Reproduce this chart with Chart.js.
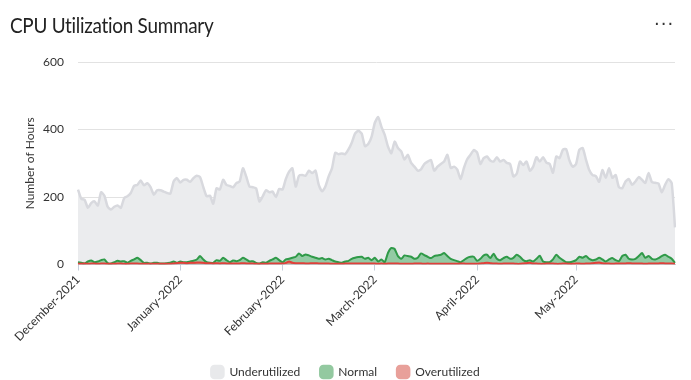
<!DOCTYPE html>
<html>
<head>
<meta charset="utf-8">
<script src="https://cdn.jsdelivr.net/npm/chart.js@4.4.1/dist/chart.umd.min.js"></script>
<style>
  body { margin: 0; background: #fff; }
  #wrap { position: relative; width: 691px; height: 380px; }
  #title { position: absolute; left: 10px; top: 12px; font-family: Lato, Roboto, sans-serif; font-size: 21px; letter-spacing: -0.3px; color: #222; transform: scaleX(0.9); transform-origin: left top; }
  #more { position: absolute; left: 654px; top: 13px; font-family: "DejaVu Sans", sans-serif; font-size: 18px; color: #333; letter-spacing: 1px; }
</style>
</head>
<body>
<div id="wrap">
  <canvas id="chartCanvas"></canvas>
  <div id="title">CPU Utilization Summary</div>
  <div id="more">···</div>
</div>
<script>
const startDay = "2021-12-01";
const dayCount = 182;

const tickDays = ["2021-12-01", "2022-01-01", "2022-02-01", "2022-03-01", "2022-04-01", "2022-05-01"];
const tickLabels = ["December-2021", "January-2022", "February-2022", "March-2022", "April-2022", "May-2022"];
const yTicks = [0, 200, 400, 600];

const underutilized = [
    222,195,192,168,182,187,175,214,204,171,163,171,175,168,197,202,212,233,236,249,
    235,241,229,207,220,220,216,212,210,246,256,243,251,251,245,256,263,259,229,202,
    204,180,226,222,251,236,233,229,241,246,285,261,231,229,226,187,202,220,214,216,
    200,224,222,253,275,285,231,263,265,263,278,271,278,236,217,231,261,285,331,327,
    329,327,341,361,388,396,388,351,357,378,420,437,408,384,349,330,364,345,335,311,
    325,301,290,278,282,298,305,310,278,290,298,305,325,286,290,281,253,286,312,325,
    339,332,298,315,320,308,305,318,305,310,301,298,261,269,305,295,305,278,290,318,
    305,318,302,298,272,320,315,340,342,308,290,298,340,345,311,280,265,262,245,280,
    257,285,257,265,229,226,246,253,236,246,259,251,242,271,244,242,240,214,236,253,
    241,110
];
const normal = [
    7,5,3,9,12,7,9,13,15,4, 3,7,11,9,10,5,11,15,20,13,
    5,5,3,5,5,3,3,4,5,9, 5,9,7,7,9,11,15,25,15,7,
    5,5,13,11,20,13,7,12,10,13, 20,15,9,10,5,3,7,5,11,15,
    20,13,7,15,17,20,23,33,25,30, 27,23,20,17,19,15,17,13,9,7,
    5,9,11,17,20,22,23,17,20,13, 20,9,15,7,35,49,46,25,17,27,
    25,23,17,20,33,28,23,19,25,27, 29,34,25,17,13,10,7,13,20,23,
    23,11,17,27,29,19,32,17,13,19, 23,17,20,29,23,13,10,13,9,17,
    26,9,7,7,15,29,20,13,7,7, 9,13,23,20,25,17,13,15,20,15,
    9,15,19,13,10,25,29,17,15,17, 25,34,20,25,17,15,19,25,29,23,
    17,5
];
const overutilized = [
    2,2,3,2,3,3,2,3,3,2, 2,2,3,3,2,2,3,3,3,2,
    2,2,2,2,2,2,2,2,2,3, 4,5,5,4,5,5,6,6,5,4,
    4,3,4,3,4,3,3,3,3,3, 4,3,3,3,2,2,2,2,3,3,
    3,3,3,5,9,5,4,4,4,3, 3,4,4,3,3,3,3,2,2,2,
    2,3,3,3,3,3,3,3,3,3, 3,2,3,2,3,3,3,3,2,2,
    2,2,3,3,3,2,3,2,2,2, 2,2,2,2,2,2,3,3,2,2,
    2,2,3,4,5,4,3,3,2,3, 3,3,3,2,2,3,4,5,3,3,
    2,2,3,3,3,2,2,3,3,2, 2,3,3,2,3,3,4,5,6,4,
    3,3,2,3,3,3,3,4,3,3, 3,3,2,3,3,3,3,4,3,3,
    3,2
];

const legendColors = ["#e8e9eb", "#93c9a0", "#e8a09a"];

// one label per day
const days = [];
const d0 = new Date(startDay + "T00:00:00Z");
for (let i = 0; i < dayCount; i++) {
    const d = new Date(d0.getTime() + i * 86400000);
    days.push(d.toISOString().slice(0, 10));
}

const ctx = document.getElementById("chartCanvas").getContext("2d");
const font = { family: "Lato, 'Noto Sans', sans-serif", size: 12 };

new Chart(ctx, {
    type: "line",
    data: {
        labels: days,
        datasets: [
            {
                label: "Underutilized",
                data: underutilized,
                borderColor: "#d8d9de",
                backgroundColor: "#ebecee",
                borderWidth: 2.5,
                fill: "origin",
                order: 3
            },
            {
                label: "Normal",
                data: normal,
                borderColor: "#2f9a48",
                backgroundColor: "rgba(60,170,90,0.5)",
                borderWidth: 2,
                fill: "origin",
                order: 2
            },
            {
                label: "Overutilized",
                data: overutilized,
                borderColor: "#e0403a",
                backgroundColor: "rgba(230,110,100,0.6)",
                borderWidth: 2,
                fill: "origin",
                order: 1
            }
        ]
    },
    options: {
        responsive: true,
        maintainAspectRatio: false,
        animation: false,
        layout: { padding: { top: 62, left: 16, right: 16, bottom: -8 } },
        elements: { point: { radius: 0 }, line: { tension: 0.2 } },
        plugins: {
            tooltip: { enabled: false },
            legend: {
                position: "bottom",
                labels: {
                    font: font,
                    color: "#333",
                    usePointStyle: true,
                    pointStyle: "rectRounded",
                    boxWidth: 15,
                    boxHeight: 15,
                    padding: 20,
                    sort: (a, b) => a.datasetIndex - b.datasetIndex,
                    generateLabels: chart => {
                        const items = Chart.defaults.plugins.legend.labels.generateLabels(chart);
                        items.forEach(it => {
                            it.fillStyle = legendColors[it.datasetIndex];
                            it.strokeStyle = legendColors[it.datasetIndex];
                            it.lineWidth = 0;
                        });
                        return items;
                    }
                }
            }
        },
        scales: {
            x: {
                afterBuildTicks: axis => {
                    axis.ticks = tickDays.map(d => ({ value: days.indexOf(d) }));
                },
                // let the first rotated label hang into the y-axis space
                afterFit: axis => {
                    axis.paddingLeft = 0;
                },
                ticks: {
                    autoSkip: false,
                    maxRotation: 45,
                    minRotation: 45,
                    font: font,
                    color: "#333",
                    padding: 2,
                    callback: (value, i) => tickLabels[i]
                },
                grid: { drawOnChartArea: false, drawTicks: true, tickLength: 6, color: "#c5cedb" },
                border: { display: true, color: "#c5cedb" }
            },
            y: {
                min: 0,
                max: 600,
                afterBuildTicks: axis => {
                    axis.ticks = yTicks.map(v => ({ value: v }));
                },
                afterFit: axis => {
                    axis.width = 62;
                },
                ticks: { font: font, color: "#333", padding: 14 },
                grid: { color: "#e2e2e2", drawTicks: false },
                border: { display: false },
                title: { display: true, text: "Number of Hours", font: font, color: "#333", padding: { top: 7, bottom: 7 } }
            }
        }
    }
});
</script>
</body>
</html>
